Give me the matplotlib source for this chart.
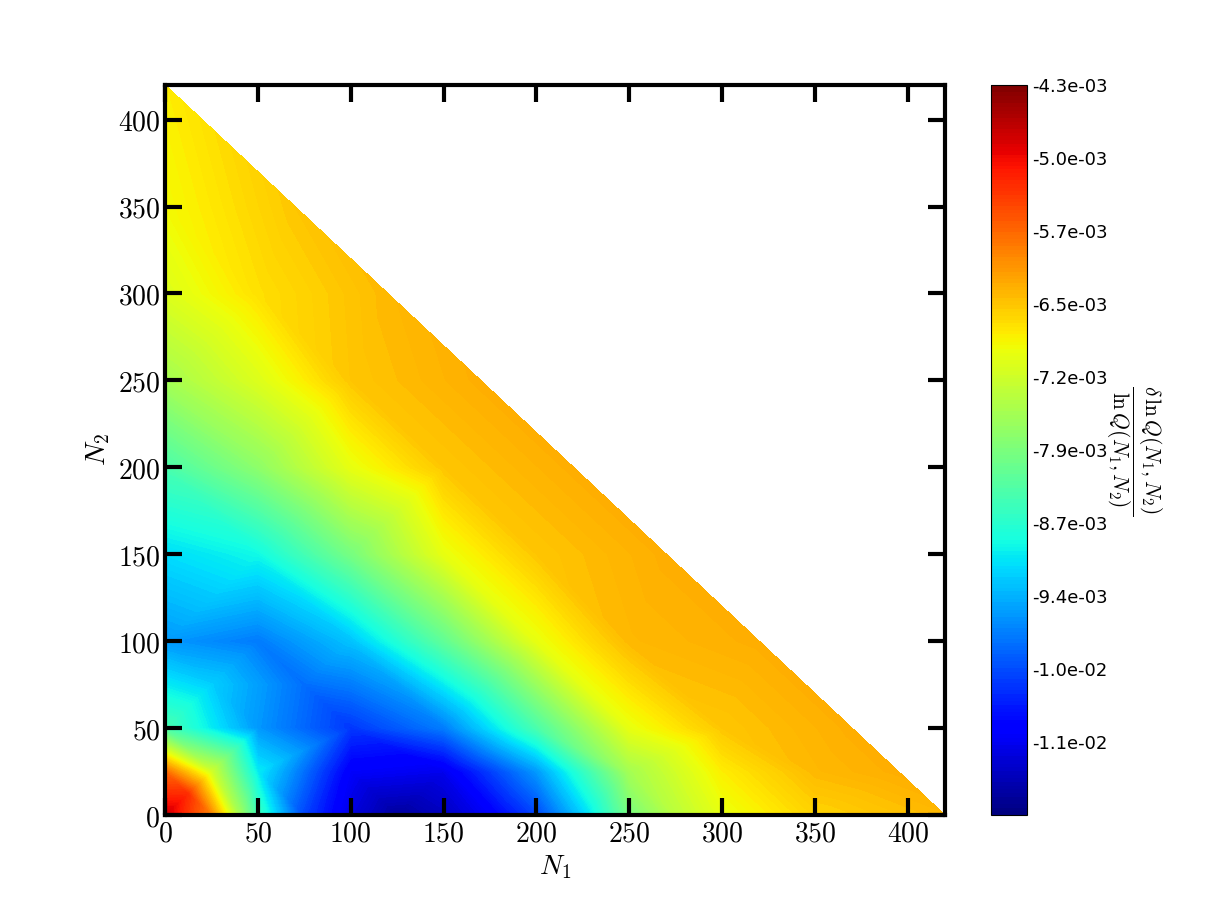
import numpy as np
import matplotlib
matplotlib.use('Agg')
import matplotlib.pyplot as plt
import matplotlib.tri as mtri

plt.rcParams['mathtext.fontset'] = 'cm'

# sample points (N1, N2, value in 1e-3)
n1 = [0, 25, 50, 75, 100, 125, 150, 175, 200, 225, 250, 275, 300, 350, 420,
      0, 25, 50, 100, 150, 200, 250, 300, 350, 395,
      0, 50, 100, 150, 200, 250, 300, 370,
      0, 50, 100, 150, 200, 250, 320,
      0, 50, 100, 150, 200, 270,
      0, 50, 100, 150, 220,
      0, 50, 100, 170,
      0, 50, 120,
      0, 70,
      0,
      12, 40, 0, 75, 25]
n2 = [0] * 15 + [25] * 10 + [50] * 8 + [100] * 7 + [150] * 6 + [200] * 5 + \
     [250] * 4 + [300] * 3 + [350] * 2 + [420] + \
     [12, 0, 40, 75, 75]
vals = [-4.8, -6.0, -8.5, -10.2, -11.0, -11.4, -11.2, -10.8, -10.2, -9.2, -8.0, -7.4, -7.0, -6.6, -6.4,
        -5.8, -7.2, -9.0, -10.8, -10.9, -9.6, -7.6, -6.8, -6.4, -6.3,
        -8.4, -9.6, -10.3, -9.8, -8.4, -7.0, -6.5, -6.3,
        -9.6, -9.8, -9.3, -8.2, -7.0, -6.4, -6.3,
        -9.1, -8.9, -8.0, -7.0, -6.5, -6.3,
        -8.4, -7.8, -7.0, -6.5, -6.3,
        -7.6, -7.1, -6.5, -6.3,
        -7.1, -6.7, -6.4,
        -6.9, -6.5,
        -6.8,
        -5.3, -7.6, -7.4, -9.9, -9.2]

vmax = -4.3e-3
vmin = -11.6e-3
cbar_ticks = np.linspace(vmax, vmin, 11)[:-1]
cbar_labels = ['-4.3e-03', '-5.0e-03', '-5.7e-03', '-6.5e-03', '-7.2e-03',
               '-7.9e-03', '-8.7e-03', '-9.4e-03', '-1.0e-02', '-1.1e-02']

fig = plt.figure(figsize=(12.32, 9.22), dpi=100)
ax = fig.add_axes([0.134, 0.116, 0.633, 0.792])
cax = fig.add_axes([0.804, 0.116, 0.030, 0.792])

tri = mtri.Triangulation(n1, n2)
z = np.clip(np.array(vals) * 1e-3, vmin, vmax)
cf = ax.tricontourf(tri, z, levels=np.linspace(vmin, vmax, 200), cmap='jet',
                    vmin=vmin, vmax=vmax)

ax.set_xlim(0, 420)
ax.set_ylim(0, 420)
ax.set_xticks(np.arange(0, 401, 50))
ax.set_yticks(np.arange(0, 401, 50))
ax.set_xticklabels([f'${t}$' for t in range(0, 401, 50)])
ax.set_yticklabels([f'${t}$' for t in range(0, 401, 50)])
ax.tick_params(direction='in', length=12, width=3, top=True, right=True, labelsize=20)
for s in ax.spines.values():
    s.set_linewidth(3)
ax.set_xlabel('$N_1$', fontsize=20)
ax.set_ylabel('$N_2$', fontsize=20)

cb = fig.colorbar(cf, cax=cax, ticks=cbar_ticks)
cb.ax.set_yticklabels(cbar_labels)
cb.ax.tick_params(labelsize=13, length=0)
cb.set_label(r'$\frac{\delta\,\ln Q(N_1,N_2)}{\ln Q(N_1,N_2)}$', rotation=-90,
             fontsize=22, labelpad=40)

fig.savefig('out.png', dpi=100)
